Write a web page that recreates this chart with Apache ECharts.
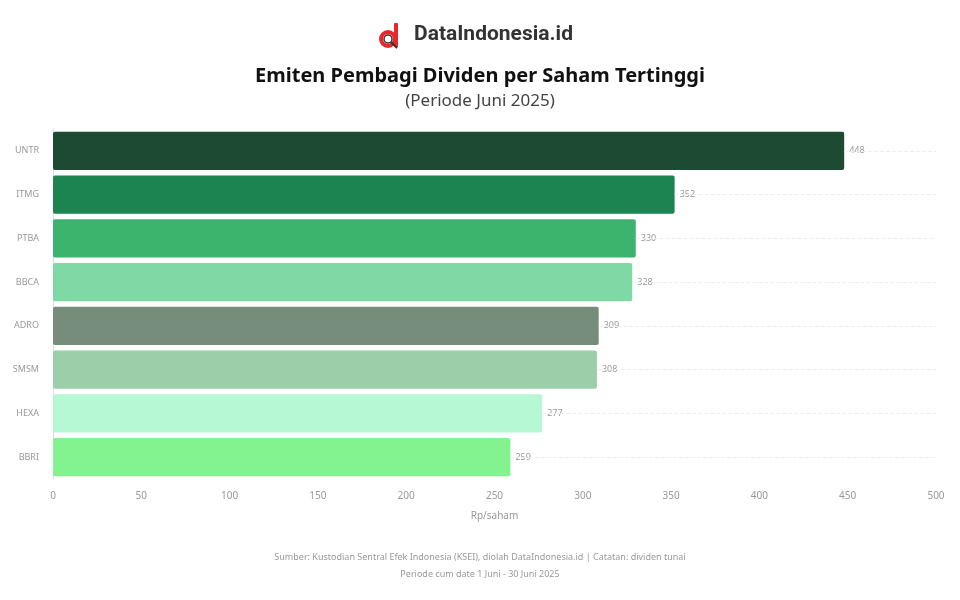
<!DOCTYPE html>
<html><head><meta charset="utf-8">
<script src="https://cdn.jsdelivr.net/npm/echarts@6/dist/echarts.min.js"></script>
<style>html,body{margin:0;padding:0;background:#fff}#c{width:960px;height:600px}</style>
</head><body><div id="c"></div>
<script>
const categories = ["UNTR", "ITMG", "PTBA", "BBCA", "ADRO", "SMSM", "HEXA", "BBRI"];
const values = [448, 352, 330, 328, 309, 308, 277, 259];
const barColors = ["#1c4a32", "#1b8450", "#3db46d", "#7ed9a4", "#778d7c", "#9bcfaa", "#b6f8d4", "#82f38e"];
const xTicks = {min: 0, max: 500, interval: 50};
const titleText = "Emiten Pembagi Dividen per Saham Tertinggi";
const subtitleText = "(Periode Juni 2025)";
const axisName = "Rp/saham";
const footer1 = "Sumber: Kustodian Sentral Efek Indonesia (KSEI), diolah DataIndonesia.id | Catatan: dividen tunai";
const footer2 = "Periode cum date 1 Juni - 30 Juni 2025";

const chart = echarts.init(document.getElementById('c'), null, {renderer: 'canvas'});
const FONT = 'Noto Sans';
chart.setOption({
  backgroundColor: '#fff',
  animation: false,
  textStyle: {fontFamily: FONT},
  title: [
    {text: titleText, left: 'center', top: 61, textStyle: {fontSize: 20, fontWeight: 'bold', color: '#111', fontFamily: FONT}},
    {text: subtitleText, left: 'center', top: 88, textStyle: {fontSize: 17, fontWeight: 'normal', color: '#444', fontFamily: FONT}}
  ],
  graphic: [
    {type: 'circle', shape: {cx: 388, cy: 39, r: 7}, style: {fill: 'none', stroke: '#e8262c', lineWidth: 4}},
    {type: 'rect', shape: {x: 394, y: 23, width: 4, height: 24, r: 1}, style: {fill: '#e8262c'}},
    {type: 'circle', shape: {cx: 388, cy: 39, r: 4}, style: {fill: '#fff', stroke: '#333', lineWidth: 1.5}},
    {type: 'line', shape: {x1: 391, y1: 42, x2: 397, y2: 48}, style: {stroke: '#333', lineWidth: 2}},
    {type: 'text', left: 414, top: 24, style: {text: 'DataIndonesia.id', font: 'bold 21px Roboto', fill: '#333'}},
    {type: 'text', left: 'center', top: 553, style: {text: footer1, font: '9px "Noto Sans"', fill: '#999'}},
    {type: 'text', left: 'center', top: 570, style: {text: footer2, font: '9px "Noto Sans"', fill: '#999'}}
  ],
  grid: {left: 53, right: 24, top: 129, bottom: 121, containLabel: false},
  xAxis: {
    type: 'value', min: xTicks.min, max: xTicks.max, interval: xTicks.interval,
    name: axisName, nameLocation: 'middle', nameGap: 32,
    nameTextStyle: {fontSize: 10, color: '#999'},
    axisLine: {show: false}, axisTick: {show: false},
    axisLabel: {fontSize: 10, color: '#999', margin: 12},
    splitLine: {show: false}
  },
  yAxis: {
    type: 'category', data: categories, inverse: true,
    axisLine: {show: true, lineStyle: {color: '#ddd'}}, axisTick: {show: false},
    axisLabel: {fontSize: 9, color: '#999', margin: 14}
  },
  series: [
    {
      type: 'bar', z: 3, barCategoryGap: '13%',
      data: values.map((v, i) => ({value: v, itemStyle: {color: barColors[i]}})),
      itemStyle: {borderRadius: 2},
      label: {show: true, position: 'right', fontSize: 9, color: '#999', distance: 5},
      markLine: {
        silent: true, symbol: 'none', label: {show: false},
        lineStyle: {color: '#eeeeee', type: 'dashed', width: 1},
        data: categories.map((c, i) => [{coord: [values[i], c]}, {coord: [xTicks.max, c]}])
      }
    }
  ]
});
</script></body></html>
